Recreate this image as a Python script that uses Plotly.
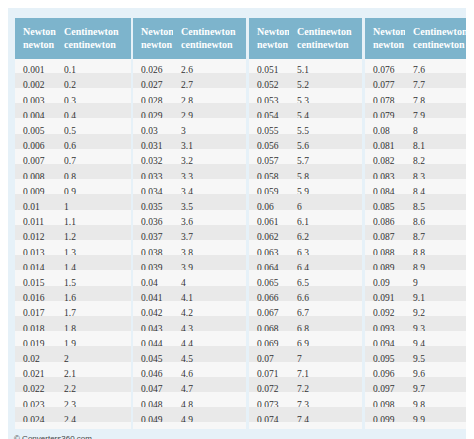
import plotly.graph_objects as go

newton = [
    "0.001", "0.002", "0.003", "0.004", "0.005", "0.006", "0.007", "0.008", "0.009", "0.01",
    "0.011", "0.012", "0.013", "0.014", "0.015", "0.016", "0.017", "0.018", "0.019", "0.02",
    "0.021", "0.022", "0.023", "0.024", "0.025",
    "0.026", "0.027", "0.028", "0.029", "0.03", "0.031", "0.032", "0.033", "0.034", "0.035",
    "0.036", "0.037", "0.038", "0.039", "0.04", "0.041", "0.042", "0.043", "0.044", "0.045",
    "0.046", "0.047", "0.048", "0.049", "0.05",
    "0.051", "0.052", "0.053", "0.054", "0.055", "0.056", "0.057", "0.058", "0.059", "0.06",
    "0.061", "0.062", "0.063", "0.064", "0.065", "0.066", "0.067", "0.068", "0.069", "0.07",
    "0.071", "0.072", "0.073", "0.074", "0.075",
    "0.076", "0.077", "0.078", "0.079", "0.08", "0.081", "0.082", "0.083", "0.084", "0.085",
    "0.086", "0.087", "0.088", "0.089", "0.09", "0.091", "0.092", "0.093", "0.094", "0.095",
    "0.096", "0.097", "0.098", "0.099", "0.1",
]
centinewton = [
    "0.1", "0.2", "0.3", "0.4", "0.5", "0.6", "0.7", "0.8", "0.9", "1",
    "1.1", "1.2", "1.3", "1.4", "1.5", "1.6", "1.7", "1.8", "1.9", "2",
    "2.1", "2.2", "2.3", "2.4", "2.5",
    "2.6", "2.7", "2.8", "2.9", "3", "3.1", "3.2", "3.3", "3.4", "3.5",
    "3.6", "3.7", "3.8", "3.9", "4", "4.1", "4.2", "4.3", "4.4", "4.5",
    "4.6", "4.7", "4.8", "4.9", "5",
    "5.1", "5.2", "5.3", "5.4", "5.5", "5.6", "5.7", "5.8", "5.9", "6",
    "6.1", "6.2", "6.3", "6.4", "6.5", "6.6", "6.7", "6.8", "6.9", "7",
    "7.1", "7.2", "7.3", "7.4", "7.5",
    "7.6", "7.7", "7.8", "7.9", "8", "8.1", "8.2", "8.3", "8.4", "8.5",
    "8.6", "8.7", "8.8", "8.9", "9", "9.1", "9.2", "9.3", "9.4", "9.5",
    "9.6", "9.7", "9.8", "9.9", "10",
]
headers = ["<b>Newton<br>newton</b>", "<b>Centinewton<br>centinewton</b>"]

W, H = 474, 439
boxes = [(7, 122), (125, 237), (241, 354), (357, 470)]
y_top, y_bot = 10, 421
rows = 25
fills = ["#f7f7f7" if i % 2 == 0 else "#e9e9e9" for i in range(rows)]

fig = go.Figure()
for k, (x0, x1) in enumerate(boxes):
    sl = slice(k * rows, (k + 1) * rows)
    fig.add_trace(go.Table(
        domain=dict(x=[x0 / W, x1 / W], y=[1 - y_bot / H, 1 - y_top / H]),
        columnwidth=[40, 72],
        header=dict(values=headers, fill_color="#7db4cc", line_color="#7db4cc",
                    align="left", height=26,
                    font=dict(family="Liberation Serif", size=10, color="white")),
        cells=dict(values=[newton[sl], centinewton[sl]],
                   fill_color=[fills, fills], line_color=[fills, fills],
                   align="left", height=15.2,
                   font=dict(family="Liberation Serif", size=9.5, color="#333333")),
    ))

fig.add_annotation(text="© Converters360.com", x=4 / W, y=1 - 430 / H, xref="paper", yref="paper",
                   xanchor="left", yanchor="middle", showarrow=False,
                   font=dict(family="Liberation Sans", size=8, color="#444444"))
fig.update_layout(width=W, height=H, margin=dict(l=0, r=0, t=0, b=0),
                  paper_bgcolor="#e6f1f8")
fig.write_html("out.html")
